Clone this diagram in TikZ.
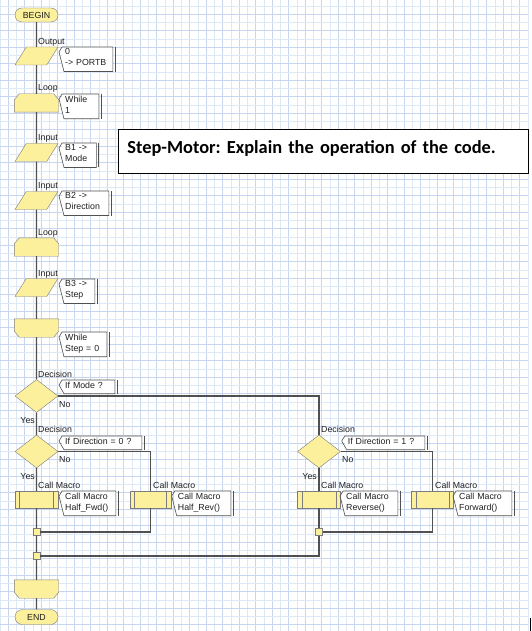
\documentclass[tikz,border=0pt]{standalone}
\usepackage{fontspec}
\setmainfont{Liberation Sans}
\newfontfamily\titlefont{Carlito}
\usepackage{tikz}
\usetikzlibrary{shapes.geometric, shapes.misc, positioning, calc}
\usepackage{xcolor}
\definecolor{gridA}{HTML}{DFE8F7}
\definecolor{gridB}{HTML}{C6D6F0}
\definecolor{flowY}{HTML}{FCF09C}
\definecolor{rim}{HTML}{7C7C7C}
\definecolor{wireC}{HTML}{505050}
\definecolor{ink}{HTML}{202020}
\newcommand{\chartfont}{\fontsize{8.8}{11}\selectfont}
\tikzset{
  term/.style={rounded rectangle, draw=rim, fill=flowY, inner sep=0pt,
               minimum width=43pt, minimum height=14pt, text=ink},
  ioblock/.style={trapezium, trapezium left angle=61, trapezium right angle=119,
                  trapezium stretches=true, draw=rim, fill=flowY, inner sep=1pt,
                  minimum width=43pt, minimum height=18pt},
  loopbox/.style={rectangle, inner sep=0pt, minimum width=44pt, minimum height=18pt},
  loopfill/.style={draw=rim, fill=flowY},
  decisionD/.style={diamond, draw=rim, fill=flowY, inner sep=0pt,
                    minimum width=43pt, minimum height=33pt},
  callblock/.style={rectangle, draw=rim, fill=flowY, inner sep=0pt,
                    minimum width=43pt, minimum height=17pt,
                    path picture={
                      \draw[rim] ([xshift=4.5pt]path picture bounding box.north west)
                        -- ([xshift=4.5pt]path picture bounding box.south west);
                      \draw[rim] ([xshift=-4.5pt]path picture bounding box.north east)
                        -- ([xshift=-4.5pt]path picture bounding box.south east);}},
  joint/.style={rectangle, draw=rim, fill=flowY, inner sep=0pt, minimum size=7pt},
  tag/.style={anchor=base west, inner sep=0pt, text=ink},
  tagR/.style={anchor=base east, inner sep=0pt, text=ink},
  notebox/.style={rectangle, fill=white, anchor=north west, inner xsep=3pt,
                  inner ysep=1.5pt, align=left, text=ink,
                  execute at end node={\rule[-4pt]{0pt}{4pt}}},
  noteline/.style={draw=wireC, line width=0.6pt},
  notebar/.style={draw=wireC, line width=1.1pt},
  wire/.style={draw=wireC, line width=1.3pt},
  titlebox/.style={draw=black, fill=white, line width=0.9pt, anchor=north west,
                   minimum width=410pt, minimum height=44pt, inner xsep=9pt,
                   text width=392pt, text depth=8pt, align=left,
                   font=\titlefont\bfseries\fontsize{18.4}{22}\selectfont},
}
% comment box: name, north west corner, text width, text
\newcommand{\cmnt}[4]{%
  \node[notebox, text width=#3] (#1) at (#2) {#4};
  \draw[noteline] (#1.north west) -- ([xshift=-3pt,yshift=-5pt]#1.north west)
    -- ([xshift=2pt]#1.south west) -- (#1.south east) -- (#1.north east) -- cycle;
  \draw[notebar] ([xshift=2.5pt]#1.north east) -- ([xshift=2.5pt]#1.south east);
}
% loop blocks: name, centre
\newcommand{\looptop}[2]{%
  \node[loopbox] (#1) at (#2) {};
  \filldraw[loopfill] ([xshift=5pt]#1.north west) -- ([xshift=-5pt]#1.north east)
    -- ([yshift=-6pt]#1.north east) -- (#1.south east) -- (#1.south west)
    -- ([yshift=-6pt]#1.north west) -- cycle;
}
\newcommand{\loopend}[2]{%
  \node[loopbox] (#1) at (#2) {};
  \filldraw[loopfill] (#1.north west) -- (#1.north east)
    -- ([yshift=6pt]#1.south east) -- ([xshift=-5pt]#1.south east)
    -- ([xshift=5pt]#1.south west) -- ([yshift=6pt]#1.south west) -- cycle;
}

\begin{document}
\frenchspacing
\begin{tikzpicture}[x=1pt, y=-1pt, font=\chartfont]
  \useasboundingbox (0,0) rectangle (532,631);

  %% Grid paper
  \fill[white] (0,0) rectangle (532,631);
  \foreach \gx in {0,16.5,...,528}{
    \draw[gridA, line width=0.7pt] (\gx,0) -- (\gx,631);
  }
  \foreach \gx in {8.25,24.75,...,528}{
    \draw[gridB, line width=0.7pt] (\gx,0) -- (\gx,631);
  }
  \foreach \gy in {6,22.5,...,631}{
    \draw[gridA, line width=0.7pt] (0,\gy) -- (528,\gy);
  }
  \foreach \gy in {14.25,30.75,...,631}{
    \draw[gridB, line width=0.7pt] (0,\gy) -- (528,\gy);
  }
  \draw[black, line width=1.3pt] (530.5,618) -- (530.5,631);

  %% Title
  \node[titlebox] (title) at (118,129) {Step-Motor: Explain the operation of the code.};

  %% --- MAIN TRUNK ---
  \node[term] (start) at (36.5,15) {BEGIN};
  \node[ioblock] (out0) at (36.5,56) {};
  \looptop{while1}{36.5,103}
  \node[ioblock] (inB1) at (36.5,152.5) {};
  \node[ioblock] (inB2) at (36.5,200.5) {};
  \looptop{loopA}{36.5,247}
  \node[ioblock] (inB3) at (36.5,287.5) {};
  \loopend{whileStep}{36.5,328}
  \node[decisionD] (ifMode) at (36.5,396) {};
  \node[decisionD] (ifDir0) at (36.5,451.5) {};
  \node[callblock] (halfFwd) at (36.5,499.5) {};
  \node[joint] (joinA) at (36.5,532) {};
  \node[joint] (joinB) at (36.5,556) {};
  \loopend{loopAend}{36.5,589}
  \node[term, minimum height=15pt] (finish) at (36.5,617) {END};

  %% --- BRANCHES ---
  \node[callblock, minimum width=41pt] (halfRev) at (150.5,499.5) {};
  \node[decisionD] (ifDir1) at (319,451.5) {};
  \node[callblock] (reverse) at (319,499.5) {};
  \node[callblock, minimum width=42pt] (forward) at (432.5,499.5) {};
  \node[joint] (joinC) at (319,532) {};

  %% Connectors
  \draw[wire] (start) -- (out0) -- (while1) -- (inB1) -- (inB2) -- (loopA)
    -- (inB3) -- (whileStep) -- (ifMode) -- (ifDir0) -- (halfFwd) -- (joinA)
    -- (joinB) -- (loopAend) -- (finish);
  \draw[wire] (ifMode.east) -| (ifDir1.north);
  \draw[wire] (ifDir0.east) -| (halfRev.north);
  \draw[wire] (halfRev.south) |- (joinA.east);
  \draw[wire] (ifDir1) -- (reverse) -- (joinC);
  \draw[wire] (ifDir1.east) -| (forward.north);
  \draw[wire] (forward.south) |- (joinC.east);
  \draw[wire] (joinC.south) |- (joinB.east);

  %% Labels
  \node[tag] (tOut) at (38,44.5) {Output};
  \node[tag] (tLoop1) at (38,91) {Loop};
  \node[tag] (tIn1) at (38,140.5) {Input};
  \node[tag] (tIn2) at (38,188.5) {Input};
  \node[tag] (tLoop2) at (38,235.5) {Loop};
  \node[tag] (tIn3) at (38,276.5) {Input};
  \node[tag] (tDec1) at (38,377) {Decision};
  \node[tag] (tNo1) at (59,407) {No};
  \node[tagR] (tYes1) at (35,423) {Yes};
  \node[tag] (tDec2) at (38,432) {Decision};
  \node[tag] (tNo2) at (59,462.5) {No};
  \node[tagR] (tYes2) at (35,479) {Yes};
  \node[tag] (tCall1) at (38,488) {Call Macro};
  \node[tag] (tCall2) at (153,488) {Call Macro};
  \node[tag] (tDec3) at (321,432) {Decision};
  \node[tag] (tNo3) at (342,462.5) {No};
  \node[tagR] (tYes3) at (317,479) {Yes};
  \node[tag] (tCall3) at (321,488) {Call Macro};
  \node[tag] (tCall4) at (435,488) {Call Macro};

  %% Comments
  \cmnt{cOut}{62,47}{44.5pt}{0\\-> PORTB}
  \cmnt{cWhile1}{62,94}{30.5pt}{While\\1}
  \cmnt{cB1}{62,143}{28pt}{B1 ->\\Mode}
  \cmnt{cB2}{62,191}{40.5pt}{B2 ->\\Direction}
  \cmnt{cB3}{62,279}{26.5pt}{B3 ->\\Step}
  \cmnt{cStep}{62,332}{38.5pt}{While\\Step = 0}
  \cmnt{cMode}{62,380}{46.5pt}{If Mode ?}
  \cmnt{cDir0}{62,436}{73.5pt}{If Direction = 0 ?}
  \cmnt{cFwd}{62,491}{47.5pt}{Call Macro\\Half\_Fwd()}
  \cmnt{cRev}{174.7,491}{49.8pt}{Call Macro\\Half\_Rev()}
  \cmnt{cDir1}{344.7,436}{73.8pt}{If Direction = 1 ?}
  \cmnt{cRevM}{343,491}{48.5pt}{Call Macro\\Reverse()}
  \cmnt{cFwdM}{456,491}{49.5pt}{Call Macro\\Forward()}

\end{tikzpicture}
\end{document}
